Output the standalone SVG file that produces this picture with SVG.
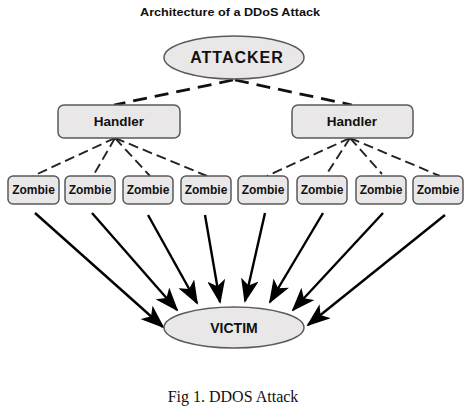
<svg xmlns="http://www.w3.org/2000/svg" width="474" height="410" viewBox="0 0 474 410">
<style>
.node{fill:#e9e7e7;stroke:#5a5a5a;stroke-width:1.5}
.t{font-family:"Liberation Sans",Arial,sans-serif;font-weight:bold;fill:#111;text-anchor:middle}
.z{font-size:12px}
.d1{stroke:#111;stroke-width:2.8;stroke-dasharray:14 8;fill:none}
.d2{stroke:#222;stroke-width:1.9;stroke-dasharray:10 5;fill:none}
.a{stroke:#000;stroke-width:2.4;fill:none;marker-end:url(#ah)}
</style>
<defs>
<marker id="ah" viewBox="0 0 24 18" refX="22" refY="9" markerWidth="24" markerHeight="18" markerUnits="userSpaceOnUse" orient="auto">
<path d="M0,0 L24,9 L0,18 L6,9 z" fill="#000"/>
</marker>
</defs>
<rect width="474" height="410" fill="#fff"/>
<text class="t" x="230" y="16" font-size="11" textLength="180" lengthAdjust="spacingAndGlyphs">Architecture of a DDoS Attack</text>
<g id="connectors">
<line class="d1" x1="233" y1="80" x2="114" y2="105"/>
<line class="d1" x1="235" y1="80" x2="352" y2="105"/>
<line class="d2" x1="115" y1="138" x2="33" y2="176"/>
<line class="d2" x1="115" y1="138" x2="93" y2="176"/>
<line class="d2" x1="115" y1="138" x2="150" y2="176"/>
<line class="d2" x1="115" y1="138" x2="207" y2="176"/>
<line class="d2" x1="350" y1="138" x2="267" y2="176"/>
<line class="d2" x1="350" y1="138" x2="328" y2="172"/>
<line class="d2" x1="350" y1="138" x2="382" y2="174"/>
<line class="d2" x1="350" y1="138" x2="440" y2="176"/>
<line class="a" x1="35" y1="213" x2="163" y2="327"/>
<line class="a" x1="92" y1="213" x2="177" y2="310"/>
<line class="a" x1="148" y1="215" x2="197" y2="303"/>
<line class="a" x1="205" y1="215" x2="220" y2="302"/>
<line class="a" x1="265" y1="213" x2="245" y2="301"/>
<line class="a" x1="323" y1="213" x2="270" y2="302"/>
<line class="a" x1="383" y1="213" x2="293" y2="310"/>
<line class="a" x1="445" y1="215" x2="308" y2="325"/>
</g>
<g id="attacker">
<ellipse class="node" cx="234" cy="57.5" rx="70" ry="21.5"/>
<text class="t" x="237" y="63" font-size="16" letter-spacing="1">ATTACKER</text>
</g>
<g id="handler1">
<rect class="node" x="58" y="105" width="122" height="33" rx="6"/>
<text class="t" x="119" y="126" font-size="13.5">Handler</text>
</g>
<g id="handler2">
<rect class="node" x="292" y="105" width="121" height="33" rx="6"/>
<text class="t" x="352" y="126" font-size="13.5">Handler</text>
</g>
<g id="zombie1"><rect class="node" x="8" y="176" width="51" height="28" rx="5"/><text class="t z" x="33.5" y="194">Zombie</text></g>
<g id="zombie2"><rect class="node" x="65" y="176" width="50" height="28" rx="5"/><text class="t z" x="90" y="194">Zombie</text></g>
<g id="zombie3"><rect class="node" x="123" y="176" width="50" height="28" rx="5"/><text class="t z" x="148" y="194">Zombie</text></g>
<g id="zombie4"><rect class="node" x="181" y="176" width="50" height="28" rx="5"/><text class="t z" x="206" y="194">Zombie</text></g>
<g id="zombie5"><rect class="node" x="238" y="176" width="50" height="28" rx="5"/><text class="t z" x="263" y="194">Zombie</text></g>
<g id="zombie6"><rect class="node" x="297" y="176" width="50" height="28" rx="5"/><text class="t z" x="322" y="194">Zombie</text></g>
<g id="zombie7"><rect class="node" x="356" y="176" width="50" height="28" rx="5"/><text class="t z" x="381" y="194">Zombie</text></g>
<g id="zombie8"><rect class="node" x="413" y="176" width="50" height="28" rx="5"/><text class="t z" x="438" y="194">Zombie</text></g>
<g id="victim">
<ellipse class="node" cx="234" cy="327.5" rx="70" ry="20.5"/>
<text class="t" x="234" y="333" font-size="14">VICTIM</text>
</g>
<text x="233" y="402" font-family="'Liberation Serif','Times New Roman',serif" font-size="16" fill="#111" text-anchor="middle">Fig 1. DDOS Attack</text>
</svg>
